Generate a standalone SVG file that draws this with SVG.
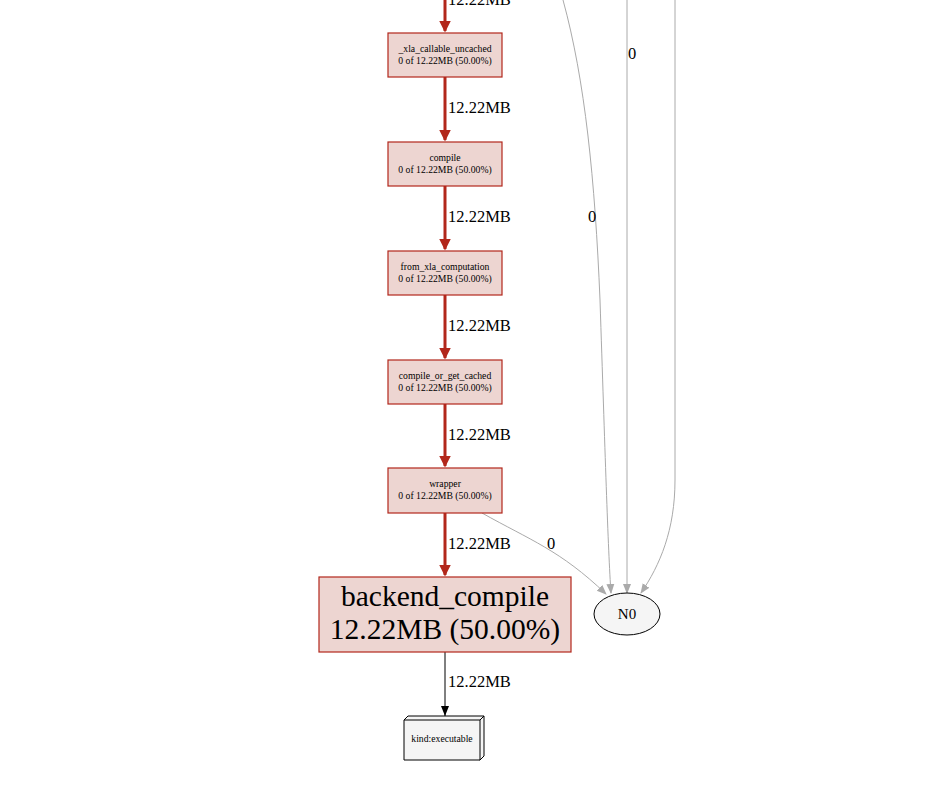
<svg xmlns="http://www.w3.org/2000/svg" width="942" height="789" viewBox="0 0 942 789">
<style>
.n rect{fill:#edd5d1;stroke:#b2271b;stroke-width:1.2}
.t{font-family:"Liberation Serif",serif;fill:#000;text-anchor:middle}
.s{font-size:9.7px}
.l{font-family:"Liberation Serif",serif;font-size:16.5px;fill:#000}
.r{stroke:#b2271b;stroke-width:3;fill:none}
.g{stroke:#aaa;stroke-width:1;fill:none}
</style>
<defs>
<marker id="ar" markerWidth="4" markerHeight="4" refX="3.5" refY="2" orient="auto" markerUnits="strokeWidth" viewBox="0 0 4 4"><path d="M0,0L4,2L0,4z" fill="#b2271b"/></marker>
<marker id="ag" markerWidth="10" markerHeight="10" refX="9" refY="5" orient="auto" markerUnits="userSpaceOnUse" viewBox="0 0 10 10"><path d="M0,1L10,5L0,9z" fill="#aaa"/></marker>
<marker id="ab" markerWidth="10" markerHeight="12" refX="10" refY="5" orient="auto" markerUnits="userSpaceOnUse" viewBox="0 0 10 10"><path d="M0,1L10,5L0,9z" fill="#000"/></marker>
</defs>
<rect width="942" height="789" fill="#fff"/>
<g id="edges">
<path class="r" d="M445,0V31" marker-end="url(#ar)"/>
<path class="r" d="M445,77V140" marker-end="url(#ar)"/>
<path class="r" d="M445,186V249" marker-end="url(#ar)"/>
<path class="r" d="M445,295V358" marker-end="url(#ar)"/>
<path class="r" d="M445,404V466" marker-end="url(#ar)"/>
<path class="r" d="M445,513V575" marker-end="url(#ar)"/>
<path d="M445,652V716" stroke="#000" stroke-width="1" marker-end="url(#ab)"/>
<path class="g" d="M482,513C530,540 560,550 606,594" marker-end="url(#ag)"/>
<path class="g" d="M563,0C585,80 595,180 600,300C605,450 608,550 611,593" marker-end="url(#ag)"/>
<path class="g" d="M627,0V593" marker-end="url(#ag)"/>
<path class="g" d="M675,0V480C675,530 660,565 641,593" marker-end="url(#ag)"/>
<text class="l" x="448" y="5">12.22MB</text>
<text class="l" x="448" y="113">12.22MB</text>
<text class="l" x="448" y="222">12.22MB</text>
<text class="l" x="448" y="331">12.22MB</text>
<text class="l" x="448" y="440">12.22MB</text>
<text class="l" x="448" y="549">12.22MB</text>
<text class="l" x="448" y="687">12.22MB</text>
<text class="l" x="547" y="549">0</text>
<text class="l" x="588" y="222">0</text>
<text class="l" x="628" y="59">0</text>
</g>
<g id="n1" class="n"><rect x="388" y="33" width="114" height="44"/><text class="t s" x="445" y="52">_xla_callable_uncached</text><text class="t s" x="445" y="64">0 of 12.22MB (50.00%)</text></g>
<g id="n2" class="n"><rect x="388" y="142" width="114" height="44"/><text class="t s" x="445" y="161">compile</text><text class="t s" x="445" y="173">0 of 12.22MB (50.00%)</text></g>
<g id="n3" class="n"><rect x="388" y="251" width="114" height="44"/><text class="t s" x="445" y="270">from_xla_computation</text><text class="t s" x="445" y="282">0 of 12.22MB (50.00%)</text></g>
<g id="n4" class="n"><rect x="388" y="360" width="114" height="44"/><text class="t s" x="445" y="379">compile_or_get_cached</text><text class="t s" x="445" y="391">0 of 12.22MB (50.00%)</text></g>
<g id="n5" class="n"><rect x="388" y="468" width="114" height="45"/><text class="t s" x="445" y="487">wrapper</text><text class="t s" x="445" y="499">0 of 12.22MB (50.00%)</text></g>
<g id="n6" class="n"><rect x="319" y="577" width="252" height="75"/><text class="t" x="445" y="606" font-size="29.5">backend_compile</text><text class="t" x="445" y="639" font-size="29.5">12.22MB (50.00%)</text></g>
<g id="N0"><ellipse cx="627" cy="614" rx="33" ry="21" fill="#f5f5f5" stroke="#000"/><text class="t" x="627" y="619" font-size="15">N0</text></g>
<g id="kind" fill="#f5f5f5" stroke="#000"><path d="M404,720L408,716H484V756L480,760Z"/><path d="M404,720H480V760H404Z M480,720L484,716"/><text class="t s" x="442" y="742" stroke="none" fill="#000" font-size="8.5">kind:executable</text></g>
</svg>
